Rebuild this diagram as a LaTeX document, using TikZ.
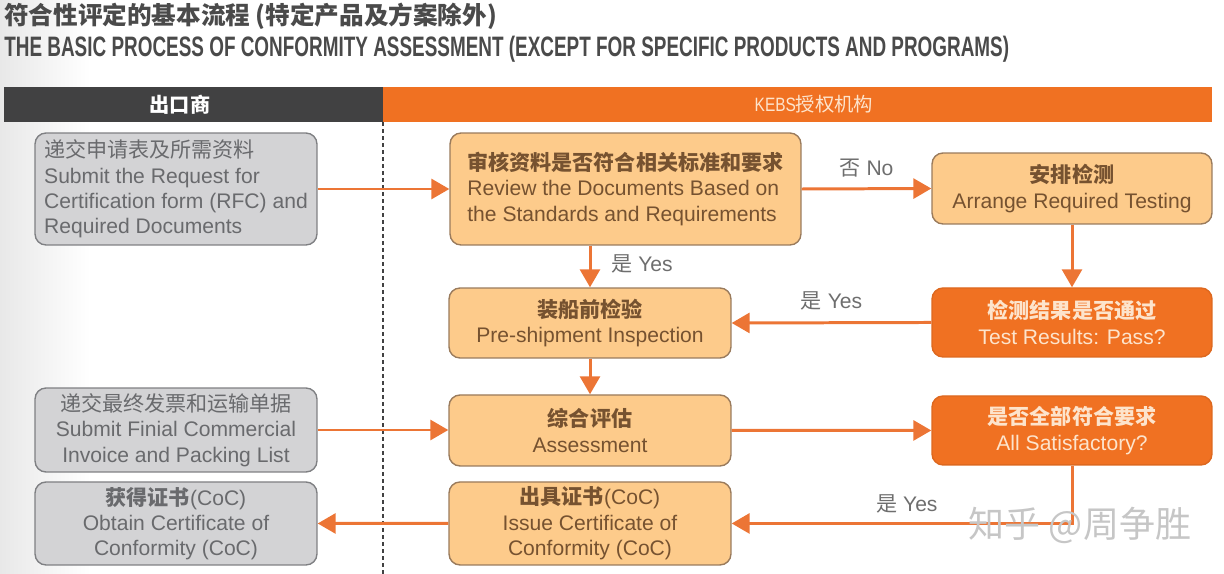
\documentclass[tikz,border=0pt]{standalone}
\usepackage{graphicx}
\usepackage{fontspec}
\setmainfont{Liberation Sans}
\newfontfamily\cjk{Noto Sans CJK SC}
\usetikzlibrary{arrows.meta,positioning}
\definecolor{barDark}{HTML}{414142}
\definecolor{kebsOrange}{HTML}{F07122}
\definecolor{lightFill}{HTML}{FDCB8B}
\definecolor{lightDraw}{HTML}{9A7B5C}
\definecolor{lightText}{HTML}{765230}
\definecolor{grayFill}{HTML}{D3D3D5}
\definecolor{grayDraw}{HTML}{7F8083}
\definecolor{grayText}{HTML}{696A6D}
\definecolor{darkText}{HTML}{FDE4CC}
\definecolor{arrowOrange}{HTML}{EC7535}
\definecolor{labelGray}{HTML}{6E6E6E}
\definecolor{titleGray}{HTML}{4A4A4A}
\newcommand{\zh}[1]{{\cjk #1}}
\newcommand{\zhb}[1]{{\cjk\bfseries #1}}
\tikzstyle{block} = [rectangle, rounded corners=0.22cm, line width=0.8pt, align=center, inner sep=0.1cm, font=\fontsize{12}{14.4}\selectfont]
\tikzstyle{grayblock} = [block, fill=grayFill, draw=grayDraw, text=grayText, minimum width=5.64cm]
\tikzstyle{lightblock} = [block, fill=lightFill, draw=lightDraw, text=lightText, minimum width=5.64cm]
\tikzstyle{darkblock} = [block, fill=kebsOrange, draw=kebsOrange!92!black, text=darkText, minimum width=5.6cm]
\tikzstyle{flowarrow} = [line width=1.7pt, draw=arrowOrange, -{Triangle[length=0.36cm, width=0.4cm]}]
\tikzset{headbar/.style={rectangle, inner sep=0pt, minimum height=0.7cm},
  yesno/.style={text=labelGray, inner sep=0pt, font=\fontsize{12}{14.4}\selectfont},
  divider/.style={draw=barDark, line width=1.1pt, dash pattern=on 0.08cm off 0.06cm}}

\begin{document}
\begin{tikzpicture}[x=0.02cm, y=-0.02cm]
    \useasboundingbox (0,0) rectangle (1224,574);
    \shade[left color=black!9, right color=white] (0,0) rectangle (90,574);

    % titles
    \node [anchor=base west, inner sep=0pt, text=titleGray, font=\cjk\bfseries\fontsize{14}{16}\selectfont] (titlecn) at (4,25) {符合性评定的基本流程 (特定产品及方案除外)};
    \node [anchor=base west, inner sep=0pt, text=titleGray] (titleen) at (4,57) {\resizebox{20.1cm}{\height}{\fontsize{16}{18}\selectfont\bfseries THE BASIC PROCESS OF CONFORMITY ASSESSMENT (EXCEPT FOR SPECIFIC PRODUCTS AND PROGRAMS)}};

    % header bars
    \node [headbar, fill=barDark, minimum width=7.58cm] (exporterbar) at (193.5,104.5) {};
    \node [headbar, fill=kebsOrange, minimum width=16.58cm] (kebsbar) at (797.5,104.5) {};
    \node [text=white, inner sep=0pt, font=\cjk\bfseries\fontsize{11.5}{13}\selectfont] (exporter) at (180,104.5) {出口商};
    \node [text=darkText, inner sep=0pt, font=\fontsize{11}{12}\selectfont] (kebs) at (814,104.5) {\scalebox{0.8}[1]{KEBS}\zh{授权机构}};
    \draw [divider] (exporterbar.south east) -- ++(0,452);

    % boxes
    \node [grayblock, align=left, minimum height=2.24cm] (submitrfc) at (176,189) {\zh{递交申请表及所需资料}\\Submit the Request for\\Certification form (RFC) and\\Required Documents};
    \node [lightblock, align=left, minimum width=7.02cm, minimum height=2.24cm] (review) at (625.5,189) {\zhb{审核资料是否符合相关标准和要求}\\Review the Documents Based on\\the Standards and Requirements};
    \node [lightblock, minimum width=5.6cm, minimum height=1.42cm] (testing) at (1072,188.5) {\zhb{安排检测}\\Arrange Required Testing};
    \node [darkblock, minimum height=1.38cm, below of = testing, yshift=-1.68cm] (testpass) {\zhb{检测结果是否通过}\\Test Results: Pass?};
    \node [lightblock, minimum height=1.4cm] (inspection) at (590,323) {\zhb{装船前检验}\\Pre-shipment Inspection};
    \node [lightblock, minimum height=1.42cm, below of = inspection, yshift=-1.15cm] (assessment) {\zhb{综合评估}\\Assessment};
    \node [lightblock, minimum height=1.66cm, below of = assessment, yshift=-0.86cm] (issuecoc) {\zhb{出具证书}(CoC)\\Issue Certificate of\\Conformity (CoC)};
    \node [darkblock, minimum height=1.38cm, below of = testpass, yshift=-1.16cm] (satisfied) {\zhb{是否全部符合要求}\\All Satisfactory?};
    \node [grayblock, minimum height=1.68cm] (submitinvoice) at (176,430) {\zh{递交最终发票和运输单据}\\Submit Finial Commercial\\Invoice and Packing List};
    \node [grayblock, minimum height=1.66cm, below of = submitinvoice, yshift=-0.87cm] (obtaincoc) {\zhb{获得证书}(CoC)\\Obtain Certificate of\\Conformity (CoC)};

    % connectors
    \draw [flowarrow] (submitrfc.east) -- (review.west);
    \draw [flowarrow] (review.east) -- node [yesno, midway, yshift=0.42cm] (nolabel) {\zh{否} No} (testing.west);
    \draw [flowarrow] (review.south -| inspection.north) -- node [yesno, midway, xshift=1.04cm, yshift=0.06cm] (yeslabel1) {\zh{是} Yes} (inspection.north);
    \draw [flowarrow] (testing.south) -- (testpass.north);
    \draw [flowarrow] (testpass.west) -- node [yesno, midway, yshift=0.43cm] (yeslabel2) {\zh{是} Yes} (inspection.east);
    \draw [flowarrow] (inspection.south) -- (assessment.north);
    \draw [flowarrow] (submitinvoice.east) -- (submitinvoice.east -| assessment.west);
    \draw [flowarrow] (assessment.east) -- (satisfied.west);
    \draw [flowarrow] (satisfied.south) |- node [yesno, pos=0.75, xshift=0.1cm, yshift=0.4cm] (yeslabel3) {\zh{是} Yes} (issuecoc.east);
    \draw [flowarrow] (issuecoc.west) -- (obtaincoc.east);

    \node [text=gray!45, inner sep=0pt, font=\cjk\fontsize{20.5}{22}\selectfont] (watermark) at (1080,525) {知乎 @周争胜};
\end{tikzpicture}
\end{document}
